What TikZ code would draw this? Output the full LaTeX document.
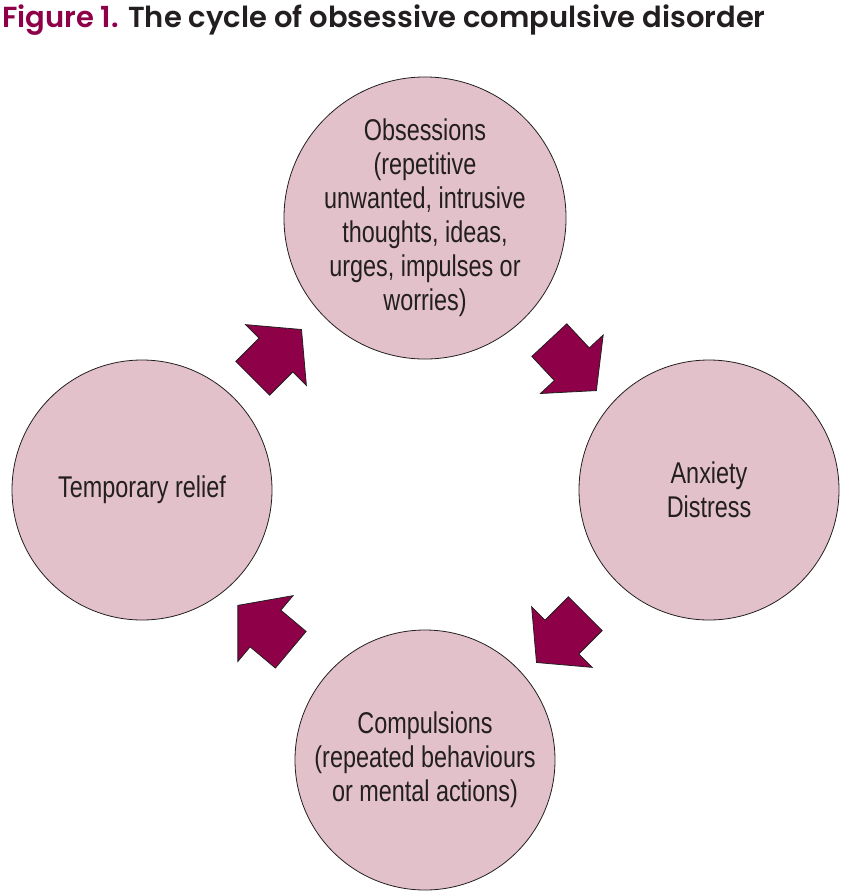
\documentclass[tikz,border=0pt]{standalone}
\usepackage{fontspec}
\setmainfont{Liberation Sans}[FakeStretch=0.78]
\newfontfamily\titlefont{Poppins}[UprightFont=* SemiBold]
\usetikzlibrary{shapes.arrows}
\definecolor{ocdpink}{RGB}{226,193,202}
\definecolor{ocdplum}{RGB}{142,0,72}
\definecolor{ocdink}{RGB}{35,31,32}

\begin{document}
\begin{tikzpicture}[x=1pt, y=-1pt,
  stage/.style={circle, draw=ocdink, fill=ocdpink, line width=0.8pt, minimum size=260pt, inner sep=0pt, align=center, text=ocdink, font=\fontsize{30}{34}\selectfont},
  flow/.style={single arrow, draw=ocdink, fill=ocdplum, line width=0.8pt, minimum height=69pt, minimum width=85pt, single arrow head extend=19pt, single arrow tip angle=100, inner xsep=0pt, inner ysep=23.5pt}]
\useasboundingbox (0,0) rectangle (842,895);
\node[anchor=base west, inner sep=0pt, text=ocdink, font=\titlefont\fontsize{29}{29}\selectfont] (title) at (2,27) {\textcolor{ocdplum}{Figure 1.} The cycle of obsessive compulsive disorder};
% the four stages of the cycle
\node[stage] (obs)    at (425,218) {Obsessions\\(repetitive\\unwanted, intrusive\\thoughts, ideas,\\urges, impulses or\\worries)};
\node[stage] (anx)    at (709,490) {Anxiety\\Distress};
\node[stage] (comp)   at (425,760) {Compulsions\\(repeated behaviours\\or mental actions)};
\node[stage] (relief) at (142,490) {Temporary relief};
% block arrows between the stages
\node[flow, rotate=45]   (a1) at (270,361) {};
\node[flow, rotate=-47]  (a2) at (566,358) {};
\node[flow, rotate=-135] (a3) at (568,631) {};
\node[flow, rotate=140]  (a4) at (272,634) {};
\end{tikzpicture}
\end{document}
